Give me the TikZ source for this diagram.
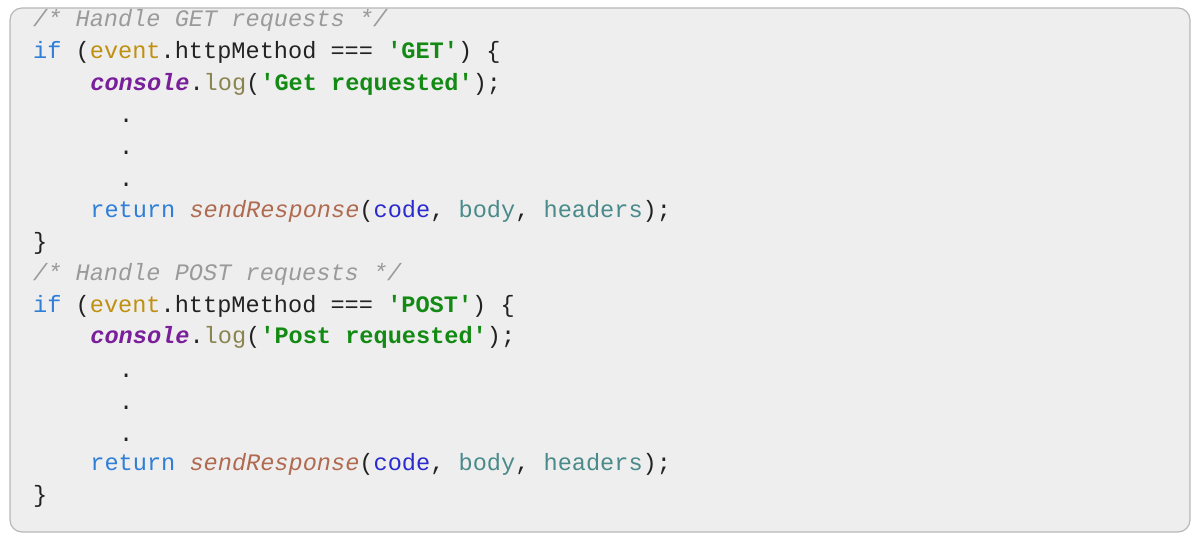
\documentclass[tikz,border=0pt]{standalone}
\usepackage{fontspec}
\setmonofont{Liberation Mono}
\definecolor{bg}{HTML}{EEEEEE}
\definecolor{bd}{HTML}{B8B8B8}
\definecolor{cm}{HTML}{9A9A9A}
\definecolor{kw}{HTML}{2F7FD8}
\definecolor{ev}{HTML}{C09010}
\definecolor{st}{HTML}{138A13}
\definecolor{cs}{HTML}{7A1F9A}
\definecolor{lg}{HTML}{8A8450}
\definecolor{fn}{HTML}{B06A50}
\definecolor{cd}{HTML}{2A2ACF}
\definecolor{tl}{HTML}{4A8A8A}
\definecolor{tx}{HTML}{222222}
\newcommand{\Cm}[1]{{\color{cm}\itshape #1}}
\newcommand{\Kw}[1]{{\color{kw}#1}}
\newcommand{\Ev}[1]{{\color{ev}#1}}
\newcommand{\St}[1]{{\color{st}\bfseries #1}}
\newcommand{\Cs}[1]{{\color{cs}\bfseries\itshape #1}}
\newcommand{\Lg}[1]{{\color{lg}#1}}
\newcommand{\Fn}[1]{{\color{fn}\itshape #1}}
\newcommand{\Cd}[1]{{\color{cd}#1}}
\newcommand{\Tl}[1]{{\color{tl}#1}}
\begin{document}
\begin{tikzpicture}[x=1pt,y=1pt,
  code/.style={anchor=base west,inner sep=0pt,font=\fontsize{23.6}{28}\ttfamily,text=tx}]
\useasboundingbox (0,0) rectangle (1200,543);
\draw[bd,fill=bg,line width=1.2pt,rounded corners=12pt] (10,11) rectangle (1190,535);
\def\cw{14.3}
\node[code] (l1) at (33,543-27) {\Cm{/* Handle GET requests */}};
\node[code] (l2) at (33,543-59) {\Kw{if} (\Ev{event}.httpMethod === \St{'GET'}) \{};
\node[code] (l3) at (33+4*\cw,543-91) {\Cs{console}.\Lg{log}(\St{'Get requested'});};
\node[code] (l4) at (33+6*\cw,543-123) {.};
\node[code] (l5) at (33+6*\cw,543-155) {.};
\node[code] (l6) at (33+6*\cw,543-187) {.};
\node[code] (l7) at (33+4*\cw,543-218) {\Kw{return} \Fn{sendResponse}(\Cd{code}, \Tl{body}, \Tl{headers});};
\node[code] (l8) at (33,543-250) {\}};
\node[code] (l9) at (33,543-281) {\Cm{/* Handle POST requests */}};
\node[code] (l10) at (33,543-313) {\Kw{if} (\Ev{event}.httpMethod === \St{'POST'}) \{};
\node[code] (l11) at (33+4*\cw,543-344) {\Cs{console}.\Lg{log}(\St{'Post requested'});};
\node[code] (l12) at (33+6*\cw,543-378) {.};
\node[code] (l13) at (33+6*\cw,543-410) {.};
\node[code] (l14) at (33+6*\cw,543-442) {.};
\node[code] (l15) at (33+4*\cw,543-471) {\Kw{return} \Fn{sendResponse}(\Cd{code}, \Tl{body}, \Tl{headers});};
\node[code] (l16) at (33,543-503) {\}};
\end{tikzpicture}
\end{document}
